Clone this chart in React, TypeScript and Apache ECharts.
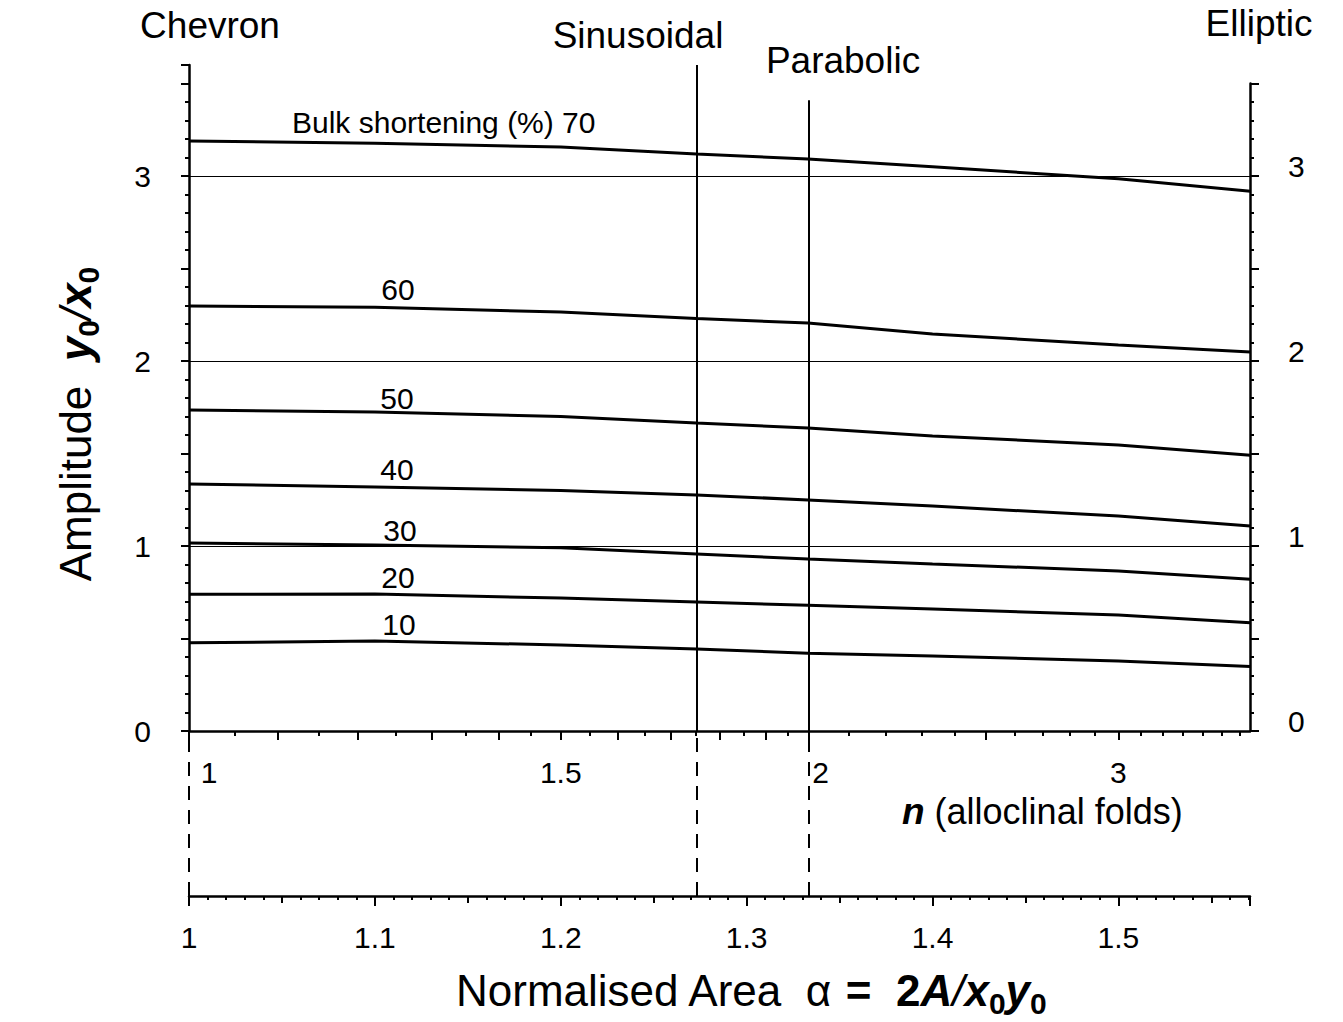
import React, { useEffect, useRef } from "react";
import * as echarts from "echarts";

const FONT = "'Liberation Sans', Arial, Helvetica, sans-serif";

// Normalised area alpha = 2A / x0y0 at which the curves were read
const alphaPoints = [1, 1.1, 1.2, 1.273, 1.333, 1.4, 1.5, 1.571];
// Amplitude y0/x0 for each bulk shortening value (%)
const shortening70 = [3.189, 3.177, 3.157, 3.119, 3.092, 3.05, 2.985, 2.917];
const shortening60 = [2.297, 2.29, 2.265, 2.23, 2.205, 2.146, 2.086, 2.049];
const shortening50 = [1.735, 1.724, 1.7, 1.665, 1.638, 1.595, 1.546, 1.49];
const shortening40 = [1.335, 1.319, 1.3, 1.276, 1.249, 1.216, 1.162, 1.108];
const shortening30 = [1.016, 1.005, 0.99, 0.957, 0.93, 0.903, 0.865, 0.82];
const shortening20 = [0.739, 0.74, 0.719, 0.697, 0.68, 0.66, 0.627, 0.585];
const shortening10 = [0.477, 0.486, 0.465, 0.443, 0.42, 0.405, 0.378, 0.348];
const curves = [shortening70, shortening60, shortening50, shortening40, shortening30, shortening20, shortening10];

// fold shapes
const foldNames = ["Chevron", "Sinusoidal", "Parabolic", "Elliptic"];
const alphaMin = 1;
const alphaMax = Math.PI / 2;
const sinusoidalAlpha = 4 / Math.PI;
const parabolicAlpha = 4 / 3;
const dashedAlphas = [alphaMin, sinusoidalAlpha, parabolicAlpha, alphaMax];
const yLeftMax = 3.6;
const yRightMax = 3.5;
const parabolicTop = 3.41;
const gridLevels = [1, 2, 3];

// secondary axis: n (alloclinal folds), alpha = 2n/(n+1)
const nMajorTicks = [1, 1.1, 1.2, 1.3, 1.4, 1.5, 1.6, 1.7, 1.8, 1.9, 2, 2.5, 3];
const nMinorTicks = [1.05, 1.15, 1.25, 1.35, 1.45, 1.55, 1.65, 1.75, 1.85, 1.95, 2.1, 2.2, 2.3, 2.4, 2.6, 2.7, 2.8, 2.9, 3.1, 3.2, 3.3, 3.4, 3.5, 3.6];
const nLabels = [1, 1.5, 2, 3];
const alphaFromN = (n: number) => (2 * n) / (n + 1);
const nFromAlpha = (a: number) => a / (2 - a);

const BLACK = "#000";
const TICK_FONT = 30;

export default function App() {
  const ref = useRef<HTMLDivElement>(null);
  useEffect(() => {
    if (!ref.current) return;
    const chart = echarts.init(ref.current, undefined, { renderer: "svg" });

    const gridL = 189;
    const gridR = 93;

    const txt = (text: string, x: number, y: number, size: number, align: string, extra: any = {}) => ({
      type: "text",
      x,
      y,
      silent: true,
      style: {
        text,
        fontSize: size,
        fontFamily: FONT,
        fill: BLACK,
        align,
        textAlign: align,
        verticalAlign: "middle",
        textVerticalAlign: "middle",
        ...extra,
      },
    });

    const richBase = (size: number, sub: number) => ({
      n: { fontSize: size, fontFamily: FONT, fill: BLACK, lineHeight: size + 12, verticalAlign: "middle" },
      e: { fontSize: size, fontFamily: FONT, fill: BLACK, fontWeight: "bold", lineHeight: size + 12, verticalAlign: "middle" },
      b: { fontSize: size, fontFamily: FONT, fill: BLACK, fontWeight: "bold", fontStyle: "italic", lineHeight: size + 12, verticalAlign: "middle" },
      i: { fontSize: size, fontFamily: FONT, fill: BLACK, fontStyle: "italic", lineHeight: size + 12, verticalAlign: "middle" },
      s: { fontSize: sub, fontFamily: FONT, fill: BLACK, fontWeight: "bold", lineHeight: sub, verticalAlign: "bottom" },
    });

    const curveLabelPos = [
      { text: "Bulk shortening (%) 70", x: 292, y: 122, align: "left" },
      { text: "60", x: 398, y: 289, align: "center" },
      { text: "50", x: 397, y: 398, align: "center" },
      { text: "40", x: 397, y: 469, align: "center" },
      { text: "30", x: 400, y: 530, align: "center" },
      { text: "20", x: 398, y: 577, align: "center" },
      { text: "10", x: 399, y: 624, align: "center" },
    ];
    const foldLabelPos = [
      { x: 210, y: 25 },
      { x: 638, y: 35 },
      { x: 843, y: 60 },
      { x: 1259, y: 23 },
    ];

    const lineSeries = curves.map((vals, k) => ({
      type: "line",
      xAxisIndex: 0,
      yAxisIndex: 0,
      symbol: "none",
      silent: true,
      lineStyle: { color: BLACK, width: 3 },
      data: alphaPoints.map((a, i) => [a, vals[i]]),
      markLine:
        k === 0
          ? {
              silent: true,
              symbol: "none",
              precision: 8,
              label: { show: false },
              data: [
                [
                  { coord: [sinusoidalAlpha, 0], lineStyle: { color: BLACK, width: 2, type: "solid" } },
                  { coord: [sinusoidalAlpha, yLeftMax] },
                ],
                [
                  { coord: [parabolicAlpha, 0], lineStyle: { color: BLACK, width: 2, type: "solid" } },
                  { coord: [parabolicAlpha, parabolicTop] },
                ],
                ...gridLevels.map((v) => ({ yAxis: v, lineStyle: { color: BLACK, width: 1, type: "solid" } })),
              ],
            }
          : undefined,
    }));

    const intLabel = (v: number) => (Math.abs(v - Math.round(v)) < 1e-6 ? String(Math.round(v)) : "");

    const option: any = {
      animation: false,
      backgroundColor: "#fff",
      grid: [
        { left: gridL, right: gridR, top: 65, bottom: 291 },
        { left: gridL, right: gridR, top: 731, bottom: 126 },
        { left: gridL, right: gridR, top: 83.5, bottom: 291 },
      ],
      xAxis: [
        {
          gridIndex: 0,
          type: "value",
          min: alphaMin,
          max: alphaMax,
          position: "bottom",
          axisLine: { show: true, onZero: false, lineStyle: { color: BLACK, width: 2.5 } },
          axisTick: { show: true, customValues: nMinorTicks.map(alphaFromN), length: 5, lineStyle: { color: BLACK, width: 2 } },
          axisLabel: {
            show: true,
            customValues: nLabels.map(alphaFromN),
            margin: 26,
            fontSize: TICK_FONT,
            fontFamily: FONT,
            color: BLACK,
            formatter: (v: number) => {
              const n = Math.round(nFromAlpha(v) * 100) / 100;
              if (n === 1) return "{a|1}";
              if (n === 2) return "{b|2}";
              return String(n);
            },
            rich: {
              a: { fontSize: TICK_FONT, fontFamily: FONT, color: BLACK, padding: [0, 0, 0, 40] },
              b: { fontSize: TICK_FONT, fontFamily: FONT, color: BLACK, padding: [0, 0, 0, 24] },
            },
          },
          splitLine: { show: false },
        },
        {
          gridIndex: 0,
          type: "value",
          min: alphaMin,
          max: alphaMax,
          position: "bottom",
          axisLine: { show: false },
          axisTick: { show: true, customValues: nMajorTicks.map(alphaFromN), length: 9, lineStyle: { color: BLACK, width: 2 } },
          axisLabel: { show: false },
          splitLine: { show: false },
        },
        {
          gridIndex: 1,
          type: "value",
          min: alphaMin,
          max: alphaMax,
          interval: 0.05,
          position: "bottom",
          axisLine: { show: true, onZero: false, lineStyle: { color: BLACK, width: 2.5 } },
          axisTick: { show: true, length: 7, lineStyle: { color: BLACK, width: 2 } },
          minorTick: { show: true, splitNumber: 5, length: 4, lineStyle: { color: BLACK, width: 2 } },
          axisLabel: {
            margin: 26,
            fontSize: TICK_FONT,
            fontFamily: FONT,
            color: BLACK,
            formatter: (v: number) => {
              const t = v * 10;
              if (Math.abs(t - Math.round(t)) > 1e-6) return "";
              const r = Math.round(t) / 10;
              return r === 1 ? "1" : r.toFixed(1);
            },
          },
          splitLine: { show: false },
        },
        {
          gridIndex: 1,
          type: "value",
          min: alphaMin,
          max: alphaMax,
          interval: 0.1,
          position: "bottom",
          axisLine: { show: false },
          axisTick: { show: true, length: 10, lineStyle: { color: BLACK, width: 2 } },
          axisLabel: { show: false },
          splitLine: { show: false },
        },
        {
          gridIndex: 2,
          type: "value",
          min: alphaMin,
          max: alphaMax,
          show: false,
        },
      ],
      yAxis: [
        {
          gridIndex: 0,
          type: "value",
          min: 0,
          max: yLeftMax,
          interval: 0.5,
          position: "left",
          axisLine: { show: true, onZero: false, lineStyle: { color: BLACK, width: 2.5 } },
          axisTick: { show: true, length: 8, lineStyle: { color: BLACK, width: 2 } },
          minorTick: { show: true, splitNumber: 5, length: 4, lineStyle: { color: BLACK, width: 2 } },
          axisLabel: {
            margin: 38,
            fontSize: TICK_FONT,
            fontFamily: FONT,
            color: BLACK,
            formatter: intLabel,
          },
          splitLine: { show: false },
        },
        {
          gridIndex: 1,
          type: "value",
          min: 0,
          max: 1,
          show: false,
        },
        {
          gridIndex: 2,
          type: "value",
          min: 0,
          max: yRightMax,
          interval: 0.5,
          position: "right",
          axisLine: { show: true, onZero: false, lineStyle: { color: BLACK, width: 2.5 } },
          axisTick: { show: true, length: 9, lineStyle: { color: BLACK, width: 2 } },
          minorTick: { show: true, splitNumber: 5, length: 4, lineStyle: { color: BLACK, width: 2 } },
          axisLabel: {
            margin: 38,
            fontSize: TICK_FONT,
            fontFamily: FONT,
            color: BLACK,
            verticalAlign: "bottom",
            lineHeight: 20,
            formatter: intLabel,
          },
          splitLine: { show: false },
        },
      ],
      series: [
        ...lineSeries,
        {
          type: "line",
          xAxisIndex: 2,
          yAxisIndex: 1,
          symbol: "none",
          silent: true,
          lineStyle: { opacity: 0 },
          data: [[alphaMin, 0]],
          markLine: {
            silent: true,
            symbol: "none",
            precision: 8,
            label: { show: false },
            lineStyle: { color: BLACK, width: 2, type: [14, 10] },
            data: dashedAlphas.map((a) => ({ xAxis: a })),
          },
        },
      ],
      graphic: [
        ...foldNames.map((name, i) => txt(name, foldLabelPos[i].x, foldLabelPos[i].y, 37, "center")),
        ...curveLabelPos.map((c) => txt(c.text, c.x, c.y, c.align === "left" ? 30 : 30, c.align)),
        {
          type: "text",
          x: 902,
          y: 811,
          silent: true,
          style: {
            text: "{b|n} {n|(alloclinal folds)}",
            rich: {
              b: { fontSize: 37, fontFamily: FONT, fill: BLACK, fontWeight: "bold", fontStyle: "italic" },
              n: { fontSize: 36, fontFamily: FONT, fill: BLACK },
            },
            align: "left",
            verticalAlign: "middle",
            fontSize: 36,
            fontFamily: FONT,
          },
        },
        {
          type: "text",
          x: 456,
          y: 990,
          silent: true,
          style: {
            text: "{n|Normalised Area  α }{e|=  2}{b|A}{i|/}{b|x}{s|0}{b|y}{s|0}",
            rich: richBase(44, 30),
            align: "left",
            verticalAlign: "middle",
            fontSize: 44,
            fontFamily: FONT,
          },
        },
        {
          type: "text",
          x: 75,
          y: 424,
          rotation: Math.PI / 2,
          silent: true,
          style: {
            text: "{n|Amplitude  }{b|y}{s|0}{i|/}{b|x}{s|0}",
            rich: richBase(44, 30),
            align: "center",
            verticalAlign: "middle",
            fontSize: 44,
            fontFamily: FONT,
          },
        },
      ],
    };

    chart.setOption(option);
    return () => chart.dispose();
  }, []);

  return (
    <div
      ref={ref}
      style={{ position: "absolute", left: 0, top: 0, width: 1343, height: 1022, background: "#fff" }}
    />
  );
}
